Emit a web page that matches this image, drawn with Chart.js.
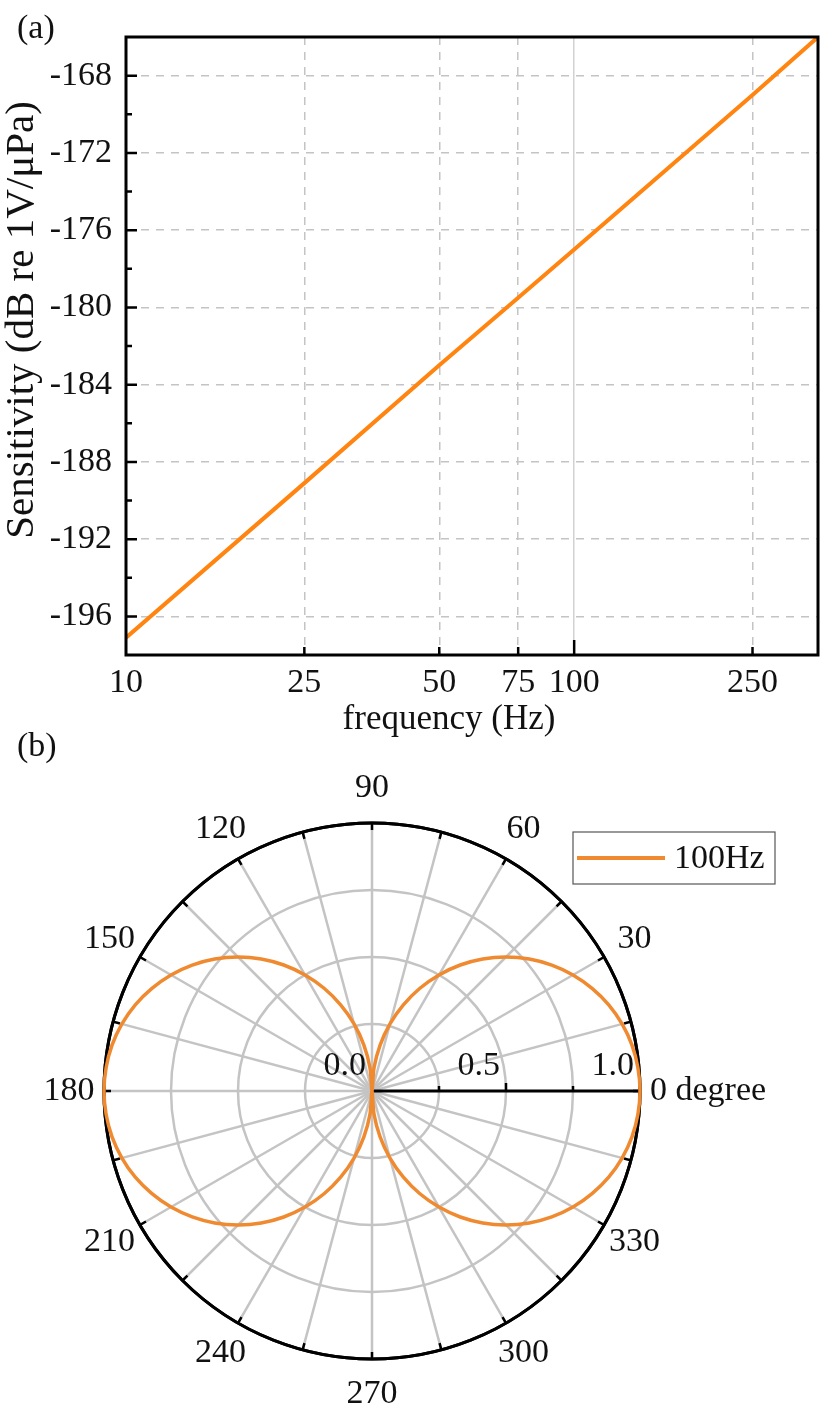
<!DOCTYPE html>
<html lang="en">
<head>
<meta charset="UTF-8">
<title>Sensitivity and directivity</title>
<script src="https://cdn.jsdelivr.net/npm/chart.js@4.4.1/dist/chart.umd.min.js"></script>
<style>
  body { margin: 0; background: #fff; }
  .wrap { position: relative; width: 825px; height: 1406px; overflow: hidden; }
  .panel { position: absolute; left: 0; }
  #sensChart { top: 0; }
  #polarChart { top: 745px; }
  .tag {
    position: absolute; left: 17px;
    font-family: "Liberation Serif", "Times New Roman", serif;
    font-size: 34px; line-height: 34px; color: #111;
  }
</style>
</head>
<body>
<div class="wrap">
  <canvas id="sensChart" class="panel" width="825" height="745"></canvas>
  <canvas id="polarChart" class="panel" width="825" height="661"></canvas>
  <div class="tag" style="top: 10px;">(a)</div>
  <div class="tag" style="top: 728px;">(b)</div>
</div>

<script>
const FONT = '"Liberation Serif", "Times New Roman", serif';
Chart.defaults.font.family = FONT;
Chart.defaults.color = '#111';

// (a) sensitivity vs frequency
const freq = [10, 25, 50, 75, 100, 250, 350];
const sensitivity = [-197.1, -189.1, -183.0, -179.5, -177.0, -169.0, -166.0];
const xTicks = [10, 25, 50, 75, 100, 250];
const yTicks = [-196, -192, -188, -184, -180, -176, -172, -168];
const yMinor = [-194, -190, -186, -182, -178, -174, -170];
const xTitle = 'frequency (Hz)';
const yTitle = 'Sensitivity (dB re 1V/\u03BCPa)';

// (b) directivity at 100 Hz, angles in degrees counter-clockwise from east
const angles = [
  0, 5, 10, 15, 20, 25, 30, 35, 40, 45, 50, 55, 60, 65, 70, 75, 80, 85,
  90, 95, 100, 105, 110, 115, 120, 125, 130, 135, 140, 145, 150, 155, 160, 165, 170, 175,
  180, 185, 190, 195, 200, 205, 210, 215, 220, 225, 230, 235, 240, 245, 250, 255, 260, 265,
  270, 275, 280, 285, 290, 295, 300, 305, 310, 315, 320, 325, 330, 335, 340, 345, 350, 355
];
const response = [
  1.000, 0.996, 0.985, 0.966, 0.940, 0.906, 0.866, 0.819, 0.766, 0.707, 0.643, 0.574, 0.500, 0.423, 0.342, 0.259, 0.174, 0.087,
  0.000, 0.087, 0.174, 0.259, 0.342, 0.423, 0.500, 0.574, 0.643, 0.707, 0.766, 0.819, 0.866, 0.906, 0.940, 0.966, 0.985, 0.996,
  1.000, 0.996, 0.985, 0.966, 0.940, 0.906, 0.866, 0.819, 0.766, 0.707, 0.643, 0.574, 0.500, 0.423, 0.342, 0.259, 0.174, 0.087,
  0.000, 0.087, 0.174, 0.259, 0.342, 0.423, 0.500, 0.574, 0.643, 0.707, 0.766, 0.819, 0.866, 0.906, 0.940, 0.966, 0.985, 0.996
];
const rTicks = [0.25, 0.5, 0.75];
const rLabels = [0, 0.5, 1.0];
const seriesName = '100Hz';

const GRID = '#c4c4c4';
const ORANGE_A = '#ff8410';
const ORANGE_B = '#ef8a30';

// frame, inward ticks and axis titles for (a)
const sensFrame = {
  id: 'sensFrame',
  afterDatasetsDraw(chart) {
    const {ctx, chartArea: a, scales: {x, y}} = chart;
    ctx.save();
    ctx.strokeStyle = '#000';
    ctx.lineWidth = 2.5;
    ctx.beginPath();
    xTicks.forEach(v => {
      if (v === 10) return;
      const px = x.getPixelForValue(v);
      ctx.moveTo(px, a.bottom);
      ctx.lineTo(px, a.bottom - (v === 100 ? 15 : 8));
    });
    yTicks.forEach(v => {
      const py = y.getPixelForValue(v);
      ctx.moveTo(a.left, py);
      ctx.lineTo(a.left + 11, py);
    });
    yMinor.forEach(v => {
      const py = y.getPixelForValue(v);
      ctx.moveTo(a.left, py);
      ctx.lineTo(a.left + 6, py);
    });
    ctx.stroke();
    ctx.lineWidth = 3;
    ctx.strokeRect(a.left, a.top, a.right - a.left, a.bottom - a.top);

    ctx.fillStyle = '#111';
    ctx.textAlign = 'center';
    ctx.textBaseline = 'middle';
    ctx.font = '35px ' + FONT;
    ctx.fillText(xTitle, (a.left + a.right) / 2 - 23, a.bottom + 65);
    ctx.translate(22, (a.top + a.bottom) / 2 - 26);
    ctx.rotate(-Math.PI / 2);
    ctx.font = '41px ' + FONT;
    ctx.fillText(yTitle, 0, 0);
    ctx.restore();
  }
};

new Chart(document.getElementById('sensChart'), {
  type: 'scatter',
  data: {
    datasets: [{
      label: 'Sensitivity',
      data: freq.map((f, i) => ({x: f, y: sensitivity[i]})),
      showLine: true,
      borderColor: ORANGE_A,
      borderWidth: 4,
      pointRadius: 0,
      tension: 0
    }]
  },
  options: {
    responsive: false,
    animation: false,
    layout: { padding: {left: 0, top: 37, right: 7, bottom: 0} },
    plugins: { legend: {display: false}, tooltip: {enabled: false} },
    scales: {
      x: {
        type: 'logarithmic',
        min: 10,
        max: 350,
        afterBuildTicks: s => { s.ticks = xTicks.map(v => ({value: v})); },
        afterFit: s => { s.height = 90; },
        ticks: { callback: v => String(v), autoSkip: false, maxRotation: 0, padding: 8, font: {size: 34} },
        grid: {
          drawTicks: false,
          lineWidth: 1.5,
          color: c => !c.tick || c.tick.value === 10 ? 'rgba(0,0,0,0)' : (c.tick.value === 100 ? '#d2d2d2' : GRID)
        },
        border: { display: false, dash: c => (c.tick && c.tick.value === 100) ? [] : [8, 7] }
      },
      y: {
        min: -198,
        max: -166,
        afterBuildTicks: s => { s.ticks = yTicks.map(v => ({value: v})); },
        afterFit: s => { s.width = 126; },
        ticks: { padding: 14, font: {size: 34} },
        grid: { drawTicks: false, lineWidth: 1.5, color: GRID },
        border: { display: false, dash: [8, 7] }
      }
    }
  },
  plugins: [sensFrame]
});

// chart index 0 sits at east, later indices run clockwise, so walk the angles backwards
const order = angles.map((_, i) => (angles.length - i) % angles.length);

const polarDecor = {
  id: 'polarDecor',
  beforeDatasetsDraw(chart) {
    const s = chart.scales.r;
    const {ctx} = chart;
    const R = s.drawingArea;
    ctx.save();
    ctx.strokeStyle = '#000';
    ctx.lineWidth = 3;
    ctx.beginPath();
    ctx.arc(s.xCenter, s.yCenter, R, 0, Math.PI * 2);
    ctx.stroke();
    // ticks on the rim every 15 degrees
    ctx.lineWidth = 2.5;
    ctx.beginPath();
    chart.data.labels.forEach((ang, i) => {
      if (ang % 15 !== 0) return;
      const p1 = s.getPointPosition(i, R);
      const p2 = s.getPointPosition(i, R - 7);
      ctx.moveTo(p1.x, p1.y);
      ctx.lineTo(p2.x, p2.y);
    });
    // ticks on the radial axis
    rTicks.forEach(v => {
      const p = s.getPointPosition(0, s.getDistanceFromCenterForValue(v));
      ctx.moveTo(p.x, p.y);
      ctx.lineTo(p.x, p.y - (v === 0.5 ? 8 : 5));
    });
    ctx.stroke();
    ctx.restore();
  },
  afterDatasetsDraw(chart) {
    const s = chart.scales.r;
    const {ctx} = chart;
    const R = s.drawingArea;
    ctx.save();
    ctx.fillStyle = '#111';
    ctx.font = '34px ' + FONT;
    ctx.textBaseline = 'middle';
    chart.data.labels.forEach((ang, i) => {
      if (ang % 30 !== 0) return;
      if (ang === 0) {
        const p = s.getPointPosition(i, R + 10);
        ctx.textAlign = 'left';
        ctx.fillText(ang + ' degree', p.x, p.y);
        return;
      }
      const p = s.getPointPosition(i, R + 35);
      ctx.textAlign = 'center';
      ctx.fillText(String(ang), p.x, p.y);
    });
    // radial tick labels above the 0 degree axis
    ctx.textAlign = 'right';
    ctx.textBaseline = 'bottom';
    rLabels.forEach(v => {
      const p = s.getPointPosition(0, s.getDistanceFromCenterForValue(v));
      ctx.fillText(v.toFixed(1), p.x - 6, p.y - 8);
    });
    // legend box
    const lx = s.xCenter + 201, ly = s.yCenter - 259;
    ctx.strokeStyle = '#555';
    ctx.lineWidth = 1.2;
    ctx.strokeRect(lx, ly, 202, 52);
    ctx.strokeStyle = ORANGE_B;
    ctx.lineWidth = 4;
    ctx.beginPath();
    ctx.moveTo(lx + 4, ly + 26);
    ctx.lineTo(lx + 92, ly + 26);
    ctx.stroke();
    ctx.textAlign = 'left';
    ctx.textBaseline = 'middle';
    ctx.fillText(seriesName, lx + 101, ly + 27);
    ctx.restore();
  }
};

new Chart(document.getElementById('polarChart'), {
  type: 'radar',
  data: {
    labels: order.map(j => angles[j]),
    datasets: [{
      label: seriesName,
      data: order.map(j => response[j]),
      borderColor: ORANGE_B,
      backgroundColor: 'rgba(0,0,0,0)',
      borderWidth: 3.5,
      pointRadius: 0,
      fill: false,
      tension: 0.3
    }]
  },
  options: {
    responsive: false,
    animation: false,
    layout: { padding: {left: 104, right: 185, top: 78, bottom: 47} },
    plugins: { legend: {display: false}, tooltip: {enabled: false} },
    scales: {
      r: {
        min: 0,
        max: 1,
        startAngle: 90,
        ticks: { display: false, stepSize: 0.25 },
        pointLabels: { display: false },
        grid: {
          circular: true,
          color: c => c.tick && c.tick.value === 1 ? '#000' : GRID,
          lineWidth: c => c.tick && c.tick.value === 1 ? 3 : 2.5
        },
        angleLines: {
          color: c => c.index === 0 ? '#000' : GRID,
          lineWidth: c => c.index % 3 !== 0 ? 0 : (c.index === 0 ? 3 : 2.5)
        }
      }
    }
  },
  plugins: [polarDecor]
});
</script>
</body>
</html>
